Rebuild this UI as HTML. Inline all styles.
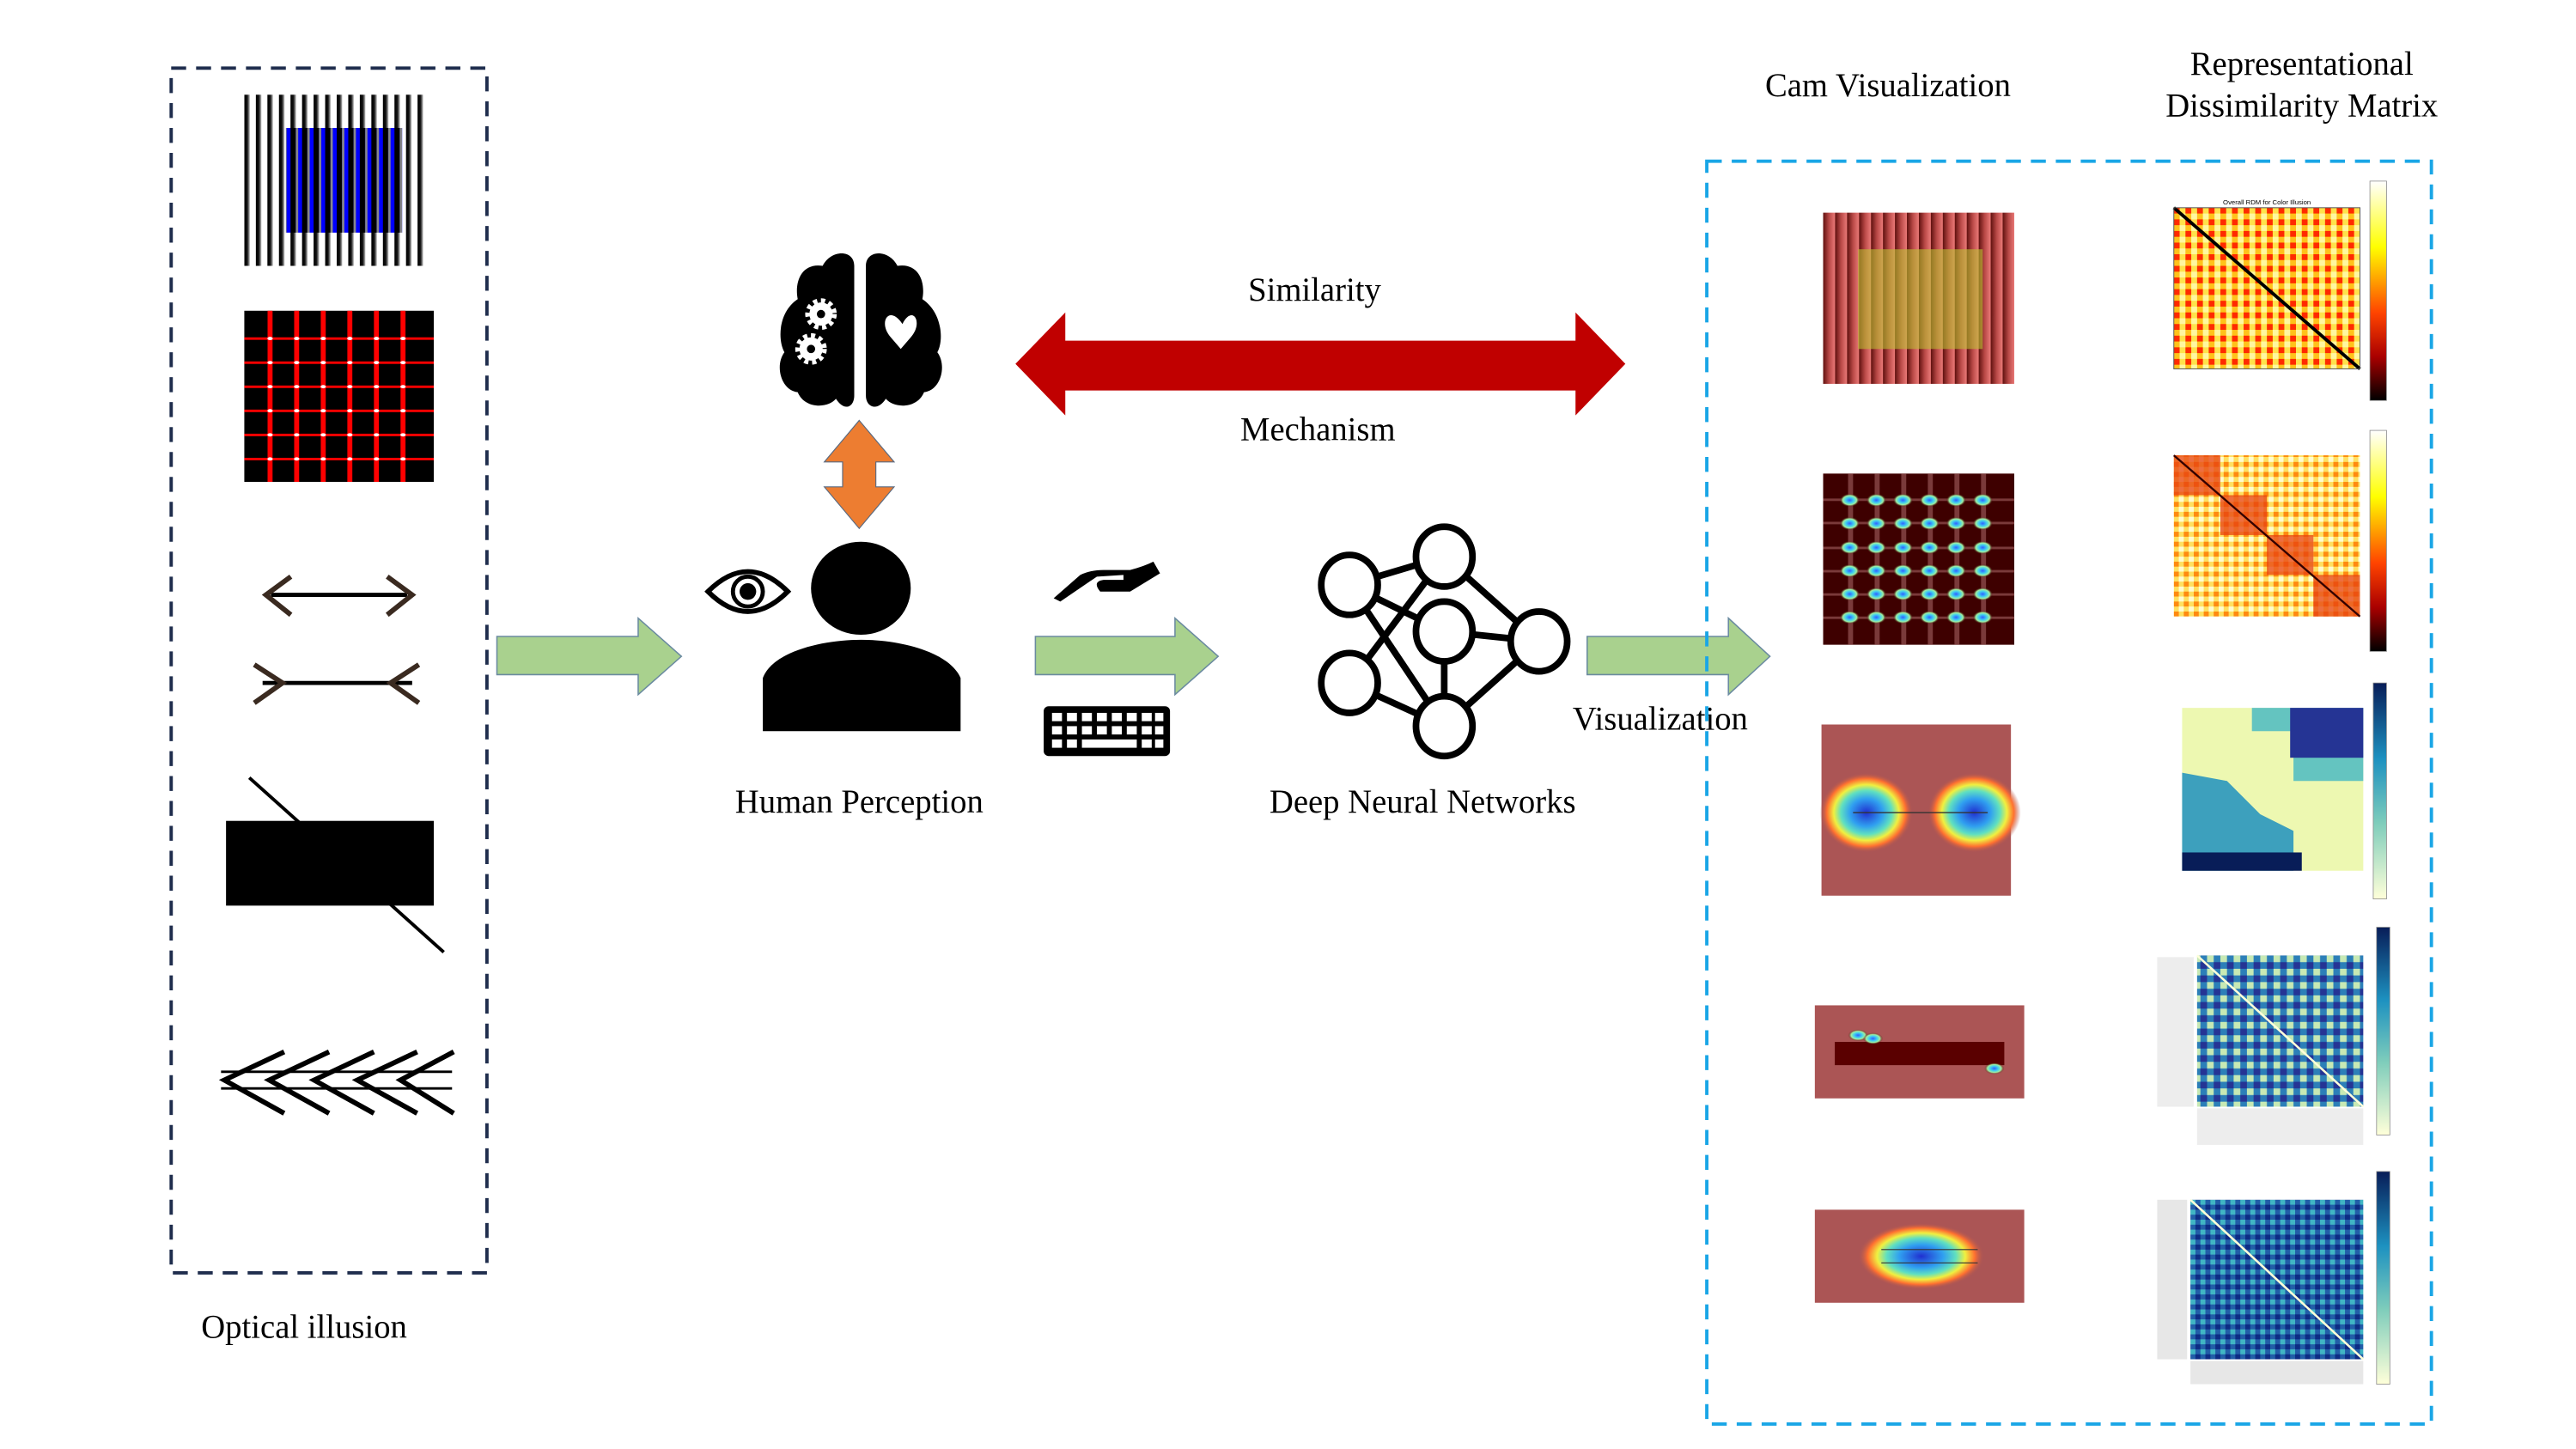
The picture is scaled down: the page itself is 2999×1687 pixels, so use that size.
<!DOCTYPE html>
<html><head><meta charset="utf-8"><style>
html,body{margin:0;padding:0;background:#fff;}
svg{display:block;}
text{font-family:"Liberation Serif",serif;fill:#000;}
</style></head><body>
<svg width="2999" height="1687" viewBox="0 0 1550 872" preserveAspectRatio="none" xmlns="http://www.w3.org/2000/svg">
<defs>
<linearGradient id="stripe" x1="0" x2="1" y1="0" y2="0">
<stop offset="0" stop-color="#000"/><stop offset="0.35" stop-color="#111"/><stop offset="0.6" stop-color="#999"/><stop offset="0.7" stop-color="#fff"/><stop offset="1" stop-color="#fff"/>
</linearGradient>
<pattern id="stripes" x="147" y="0" width="6.95" height="10" patternUnits="userSpaceOnUse">
<rect width="6.95" height="10" fill="#fff"/><rect width="5" height="10" fill="url(#stripe)"/>
</pattern>
<pattern id="stripesB" x="147" y="0" width="6.95" height="10" patternUnits="userSpaceOnUse">
<rect width="6.95" height="10" fill="#0000ff"/><rect width="3.2" height="10" fill="#000"/><rect x="3.2" width="1.4" height="10" fill="#888"/>
</pattern>
<pattern id="hot" x="1308" y="125" width="7" height="7" patternUnits="userSpaceOnUse">
<rect width="7" height="7" fill="#ffc21a"/><rect width="3.5" height="3.5" fill="#ff2a00"/><rect x="3.5" y="3.5" width="3.5" height="3.5" fill="#fff7a0"/><rect x="3.5" width="3.5" height="3.5" fill="#ffe24a"/>
</pattern>
<pattern id="hot2" x="1308" y="272" width="6" height="6" patternUnits="userSpaceOnUse">
<rect width="6" height="6" fill="#ffe060"/><rect width="3" height="3" fill="#ff8a10"/><rect x="3" y="3" width="3" height="3" fill="#fffbd0"/>
</pattern>
<pattern id="blu" x="1320" y="575" width="8" height="8" patternUnits="userSpaceOnUse">
<rect width="8" height="8" fill="#2c7fb8"/><rect width="4" height="4" fill="#c7e9b4"/><rect x="4" y="4" width="4" height="4" fill="#253494"/>
</pattern>
<pattern id="blu2" x="1318" y="722" width="6" height="6" patternUnits="userSpaceOnUse">
<rect width="6" height="6" fill="#225ea8"/><rect width="3" height="3" fill="#41b6c4"/><rect x="3" y="3" width="3" height="3" fill="#0c2c84"/>
</pattern>
<linearGradient id="cbhot" x1="0" x2="0" y1="0" y2="1">
<stop offset="0" stop-color="#fff"/><stop offset="0.3" stop-color="#ff0"/><stop offset="0.6" stop-color="#f40"/><stop offset="0.8" stop-color="#a00"/><stop offset="1" stop-color="#000"/>
</linearGradient>
<linearGradient id="cbblu" x1="0" x2="0" y1="0" y2="1">
<stop offset="0" stop-color="#081d58"/><stop offset="0.35" stop-color="#1d91c0"/><stop offset="0.65" stop-color="#7fcdbb"/><stop offset="1" stop-color="#ffffd9"/>
</linearGradient>
<radialGradient id="blob" cx="0.5" cy="0.5" r="0.5">
<stop offset="0" stop-color="#2030d0"/><stop offset="0.35" stop-color="#30a0f0"/><stop offset="0.55" stop-color="#60e0c0"/><stop offset="0.7" stop-color="#f0f040"/><stop offset="0.85" stop-color="#ff7030"/><stop offset="1" stop-color="#ab5555" stop-opacity="0"/>
</radialGradient>
<radialGradient id="dot" cx="0.5" cy="0.5" r="0.5">
<stop offset="0" stop-color="#3060ff"/><stop offset="0.4" stop-color="#40d0f0"/><stop offset="0.7" stop-color="#a0f0a0"/><stop offset="1" stop-color="#400" stop-opacity="0"/>
</radialGradient>
<linearGradient id="camstr" x1="0" x2="1">
<stop offset="0" stop-color="#4a0808"/><stop offset="0.5" stop-color="#b04848"/><stop offset="1" stop-color="#e88080"/>
</linearGradient>
<pattern id="camp" x="1097" y="0" width="7.2" height="10" patternUnits="userSpaceOnUse">
<rect width="7.2" height="10" fill="url(#camstr)"/>
</pattern>
</defs>

<rect x="103" y="41" width="190" height="725" fill="none" stroke="#1f2d4d" stroke-width="2" stroke-dasharray="9,6"/>
<rect x="147" y="57" width="111" height="103" fill="url(#stripes)"/>
<rect x="172" y="77" width="70" height="63" fill="url(#stripesB)"/>
<rect x="147" y="187" width="114" height="103" fill="#000"/>
<g fill="#f00">
<rect x="161" y="187" width="3" height="103"/><rect x="177" y="187" width="3" height="103"/><rect x="193" y="187" width="3" height="103"/><rect x="209" y="187" width="3" height="103"/><rect x="225" y="187" width="3" height="103"/><rect x="241" y="187" width="3" height="103"/>
<rect x="147" y="203" width="114" height="1.5"/><rect x="147" y="217.5" width="114" height="1.5"/><rect x="147" y="232" width="114" height="1.5"/><rect x="147" y="246.5" width="114" height="1.5"/><rect x="147" y="261" width="114" height="1.5"/><rect x="147" y="275.5" width="114" height="1.5"/>
</g>
<g fill="#fff">
<g id="dcol"><ellipse cx="162.5" cy="203.7" rx="1.6" ry="1"/><ellipse cx="162.5" cy="218.2" rx="1.6" ry="1"/><ellipse cx="162.5" cy="232.7" rx="1.6" ry="1"/><ellipse cx="162.5" cy="247.2" rx="1.6" ry="1"/><ellipse cx="162.5" cy="261.7" rx="1.6" ry="1"/><ellipse cx="162.5" cy="276.2" rx="1.6" ry="1"/></g>
<use href="#dcol" x="16"/><use href="#dcol" x="32"/><use href="#dcol" x="48"/><use href="#dcol" x="64"/><use href="#dcol" x="80"/>
</g>
<g stroke="#000" stroke-width="2.5" fill="none">
<line x1="163" y1="358" x2="245" y2="358"/>
<line x1="158" y1="411" x2="248" y2="411"/>
</g>
<g stroke="#3a2a20" stroke-width="3" fill="none">
<polyline points="175,347 160,358 175,370"/><polyline points="233,347 248,358 233,370"/>
<polyline points="153,400 170,411 153,423"/><polyline points="252,400 235,411 252,423"/>
</g>
<line x1="150" y1="468" x2="267" y2="573" stroke="#000" stroke-width="2"/>
<rect x="136" y="494" width="125" height="51" fill="#000"/>
<g stroke="#000" stroke-width="1.5"><line x1="133" y1="645" x2="272" y2="645"/><line x1="133" y1="655" x2="272" y2="655"/></g>
<g stroke="#000" stroke-width="3" fill="none">
<polyline points="171,633 135,650 171,670"/><polyline points="198,633 162,650 198,670"/><polyline points="225,633 189,650 225,670"/><polyline points="251,633 215,650 251,670"/><polyline points="273,633 241,650 273,670"/>
</g>
<text x="183" y="805" font-size="20" text-anchor="middle">Optical illusion</text>

<g fill="#a9d18e" stroke="#6a8aa0" stroke-width="0.8">
<polygon points="299,383 384,383 384,372 410,395 384,418 384,406 299,406"/>
<polygon points="623,383 707,383 707,372 733,395 707,418 707,406 623,406"/>
<polygon points="955,383 1040,383 1040,372 1065,395 1040,418 1040,406 955,406"/>
</g>

<g fill="#000">
<path d="M514,160 C514,150 500,150 495,160 C482,158 478,170 480,180 C468,188 468,205 472,212 C466,220 470,235 480,236 C484,246 498,246 503,240 C508,248 514,245 514,238 Z"/>
<path d="M521,160 C521,150 535,150 540,160 C553,158 557,170 555,180 C567,188 568,205 564,212 C570,220 566,235 556,236 C552,246 538,246 533,240 C528,248 521,245 521,238 Z"/>
</g>
<g fill="#fff">
<circle cx="494" cy="189" r="7"/><circle cx="488" cy="210" r="7"/>
<path d="M543,195 C535,183 528,194 536,203 L542,210 L548,203 C556,194 549,183 543,195 Z"/>
</g>
<g fill="#000"><circle cx="494" cy="189" r="2.5"/><circle cx="488" cy="210" r="2.5"/></g>
<g stroke="#fff" stroke-width="3" stroke-dasharray="2.5,2.2" fill="none"><circle cx="494" cy="189" r="8"/><circle cx="488" cy="210" r="8"/></g>
<polygon points="517,253 538,278 527,278 527,293 538,293 517,318 496,293 507,293 507,278 496,278" fill="#ed7d31" stroke="#5a6a80" stroke-width="0.6"/>
<path d="M426,356 Q450,332 474,356 Q450,380 426,356 Z" fill="none" stroke="#000" stroke-width="3"/>
<circle cx="450" cy="356" r="9" fill="none" stroke="#000" stroke-width="2.5"/>
<circle cx="450" cy="356" r="5" fill="#000"/>
<ellipse cx="518" cy="354" rx="30" ry="28" fill="#000"/>
<path d="M459,440 L459,408 C465,392 495,385 518,385 C541,385 571,392 578,408 L578,440 Z" fill="#000"/>
<text x="517" y="489" font-size="20" text-anchor="middle">Human Perception</text>

<polygon points="611,219 641,188 641,205 948,205 948,188 978,219 948,250 948,235 641,235 641,250" fill="#c00000"/>
<text x="791" y="181" font-size="20" text-anchor="middle">Similarity</text>
<text x="793" y="265" font-size="20" text-anchor="middle">Mechanism</text>

<path d="M634,360 L650,346 Q656,343 664,343 L680,343 Q688,341 694,338 L698,345 L680,356 L662,356 Q657,350 664,349 L676,349 L676,346 L660,347 L638,362 Z" fill="#000"/>
<rect x="628" y="425" width="76" height="30" rx="3" fill="#000"/>
<g fill="#fff">
<rect x="633" y="429" width="6" height="5"/><rect x="642" y="429" width="6" height="5"/><rect x="651" y="429" width="6" height="5"/><rect x="660" y="429" width="6" height="5"/><rect x="669" y="429" width="6" height="5"/><rect x="678" y="429" width="6" height="5"/><rect x="687" y="429" width="6" height="5"/><rect x="695" y="429" width="5" height="5"/>
<rect x="633" y="437" width="6" height="5"/><rect x="642" y="437" width="6" height="5"/><rect x="651" y="437" width="6" height="5"/><rect x="660" y="437" width="6" height="5"/><rect x="669" y="437" width="6" height="5"/><rect x="678" y="437" width="6" height="5"/><rect x="687" y="437" width="6" height="5"/><rect x="695" y="437" width="5" height="5"/>
<rect x="633" y="445" width="6" height="5"/><rect x="642" y="445" width="6" height="5"/><rect x="651" y="445" width="33" height="5"/><rect x="687" y="445" width="6" height="5"/><rect x="695" y="445" width="5" height="5"/>
</g>

<g stroke="#000" stroke-width="4" fill="none">
<line x1="812" y1="352" x2="869" y2="335"/><line x1="812" y1="352" x2="869" y2="380"/><line x1="812" y1="352" x2="869" y2="437"/>
<line x1="869" y1="335" x2="812" y2="411"/><line x1="869" y1="335" x2="926" y2="386"/>
<line x1="869" y1="380" x2="926" y2="386"/><line x1="869" y1="380" x2="869" y2="437"/>
<line x1="812" y1="411" x2="869" y2="437"/><line x1="926" y1="386" x2="869" y2="437"/>
</g>
<g stroke="#000" stroke-width="4" fill="#fff">
<ellipse cx="812" cy="352" rx="17" ry="18"/><ellipse cx="869" cy="335" rx="17" ry="18"/><ellipse cx="869" cy="380" rx="17" ry="18"/><ellipse cx="926" cy="386" rx="17" ry="18"/><ellipse cx="812" cy="411" rx="17" ry="18"/><ellipse cx="869" cy="437" rx="17" ry="18"/>
</g>
<text x="856" y="489" font-size="20" text-anchor="middle">Deep Neural Networks</text>
<text x="999" y="439" font-size="20" text-anchor="middle">Visualization</text>

<rect x="1027" y="97" width="436" height="760" fill="none" stroke="#1aa6e6" stroke-width="2" stroke-dasharray="9,6"/>
<text x="1136" y="58" font-size="20" text-anchor="middle">Cam Visualization</text>
<text x="1385" y="45" font-size="20" text-anchor="middle">Representational</text>
<text x="1385" y="70" font-size="20" text-anchor="middle">Dissimilarity Matrix</text>

<rect x="1097" y="128" width="115" height="103" fill="url(#camp)"/>
<rect x="1118" y="150" width="75" height="60" fill="#b0d030" opacity="0.6"/>
<rect x="1097" y="128" width="115" height="103" fill="#ff5040" opacity="0.12"/>
<rect x="1097" y="285" width="115" height="103" fill="#3e0000"/>
<g fill="#7a3a3a">
<rect x="1112" y="285" width="3" height="103"/><rect x="1128" y="285" width="3" height="103"/><rect x="1144" y="285" width="3" height="103"/><rect x="1160" y="285" width="3" height="103"/><rect x="1176" y="285" width="3" height="103"/><rect x="1192" y="285" width="3" height="103"/>
<rect x="1097" y="300" width="115" height="1.5"/><rect x="1097" y="314" width="115" height="1.5"/><rect x="1097" y="329" width="115" height="1.5"/><rect x="1097" y="343" width="115" height="1.5"/><rect x="1097" y="357" width="115" height="1.5"/><rect x="1097" y="371" width="115" height="1.5"/>
</g>
<g fill="url(#dot)">
<g id="drow"><ellipse cx="1113" cy="301" rx="6" ry="4"/><ellipse cx="1129" cy="301" rx="6" ry="4"/><ellipse cx="1145" cy="301" rx="6" ry="4"/><ellipse cx="1161" cy="301" rx="6" ry="4"/><ellipse cx="1177" cy="301" rx="6" ry="4"/><ellipse cx="1193" cy="301" rx="6" ry="4"/></g>
<use href="#drow" y="14"/><use href="#drow" y="28.5"/><use href="#drow" y="42.5"/><use href="#drow" y="56.5"/><use href="#drow" y="70.5"/>
</g>
<rect x="1096" y="436" width="114" height="103" fill="#ab5555"/>
<ellipse cx="1123" cy="489" rx="28" ry="24" fill="url(#blob)"/>
<ellipse cx="1188" cy="489" rx="28" ry="24" fill="url(#blob)"/>
<line x1="1115" y1="489" x2="1196" y2="489" stroke="#333" stroke-width="0.7"/>
<rect x="1092" y="605" width="126" height="56" fill="#ab5555"/>
<rect x="1104" y="627" width="102" height="14" fill="#5a0000"/>
<ellipse cx="1118" cy="623" rx="6" ry="3.5" fill="url(#dot)"/><ellipse cx="1127" cy="625" rx="6" ry="3.5" fill="url(#dot)"/><ellipse cx="1200" cy="643" rx="6" ry="3.5" fill="url(#dot)"/>
<rect x="1092" y="728" width="126" height="56" fill="#ab5555"/>
<ellipse cx="1156" cy="756" rx="38" ry="20" fill="url(#blob)"/>
<g stroke="#333" stroke-width="0.6"><line x1="1132" y1="752" x2="1190" y2="752"/><line x1="1132" y1="760" x2="1190" y2="760"/></g>

<rect x="1308" y="125" width="112" height="97" fill="url(#hot)"/>
<line x1="1308" y1="125" x2="1420" y2="222" stroke="#000" stroke-width="2"/>
<rect x="1308" y="125" width="112" height="97" fill="none" stroke="#555" stroke-width="0.5"/>
<rect x="1426" y="109" width="10" height="132" fill="url(#cbhot)" stroke="#888" stroke-width="0.4"/>
<text x="1364" y="123" font-size="4" text-anchor="middle" style="font-family:'Liberation Sans',sans-serif">Overall RDM for Color Illusion</text>
<rect x="1308" y="274" width="112" height="97" fill="url(#hot2)"/>
<g fill="#e84010" opacity="0.75"><rect x="1308" y="274" width="28" height="24"/><rect x="1336" y="298" width="28" height="24"/><rect x="1364" y="322" width="28" height="24"/><rect x="1392" y="346" width="28" height="25"/></g>
<line x1="1308" y1="274" x2="1420" y2="371" stroke="#300" stroke-width="1.2"/>
<rect x="1426" y="259" width="10" height="133" fill="url(#cbhot)" stroke="#888" stroke-width="0.4"/>
<rect x="1313" y="426" width="109" height="98" fill="#edf8b1"/>
<polygon points="1313,426 1422,426 1422,470 1380,470 1380,440 1355,440 1355,426" fill="#41b6c4" opacity="0.8"/>
<rect x="1378" y="426" width="44" height="30" fill="#253494"/>
<polygon points="1313,465 1340,470 1360,490 1380,500 1380,524 1313,524" fill="#1d91c0" opacity="0.85"/>
<rect x="1313" y="513" width="72" height="11" fill="#081d58"/>
<rect x="1428" y="411" width="8" height="130" fill="url(#cbblu)" stroke="#888" stroke-width="0.4"/>
<rect x="1322" y="575" width="100" height="91" fill="url(#blu)"/>
<line x1="1322" y1="575" x2="1422" y2="666" stroke="#ffffd9" stroke-width="1.3"/>
<rect x="1430" y="558" width="8" height="125" fill="url(#cbblu)" stroke="#888" stroke-width="0.4"/>
<rect x="1298" y="576" width="22" height="90" fill="#ccc" opacity="0.35"/>
<rect x="1322" y="667" width="100" height="22" fill="#ccc" opacity="0.35"/>
<rect x="1318" y="722" width="104" height="96" fill="url(#blu2)"/>
<line x1="1318" y1="722" x2="1422" y2="818" stroke="#ffffd9" stroke-width="1.3"/>
<rect x="1430" y="705" width="8" height="128" fill="url(#cbblu)" stroke="#888" stroke-width="0.4"/>
<rect x="1298" y="722" width="18" height="96" fill="#bbb" opacity="0.35"/>
<rect x="1318" y="819" width="104" height="14" fill="#bbb" opacity="0.35"/>
</svg>
</body></html>
